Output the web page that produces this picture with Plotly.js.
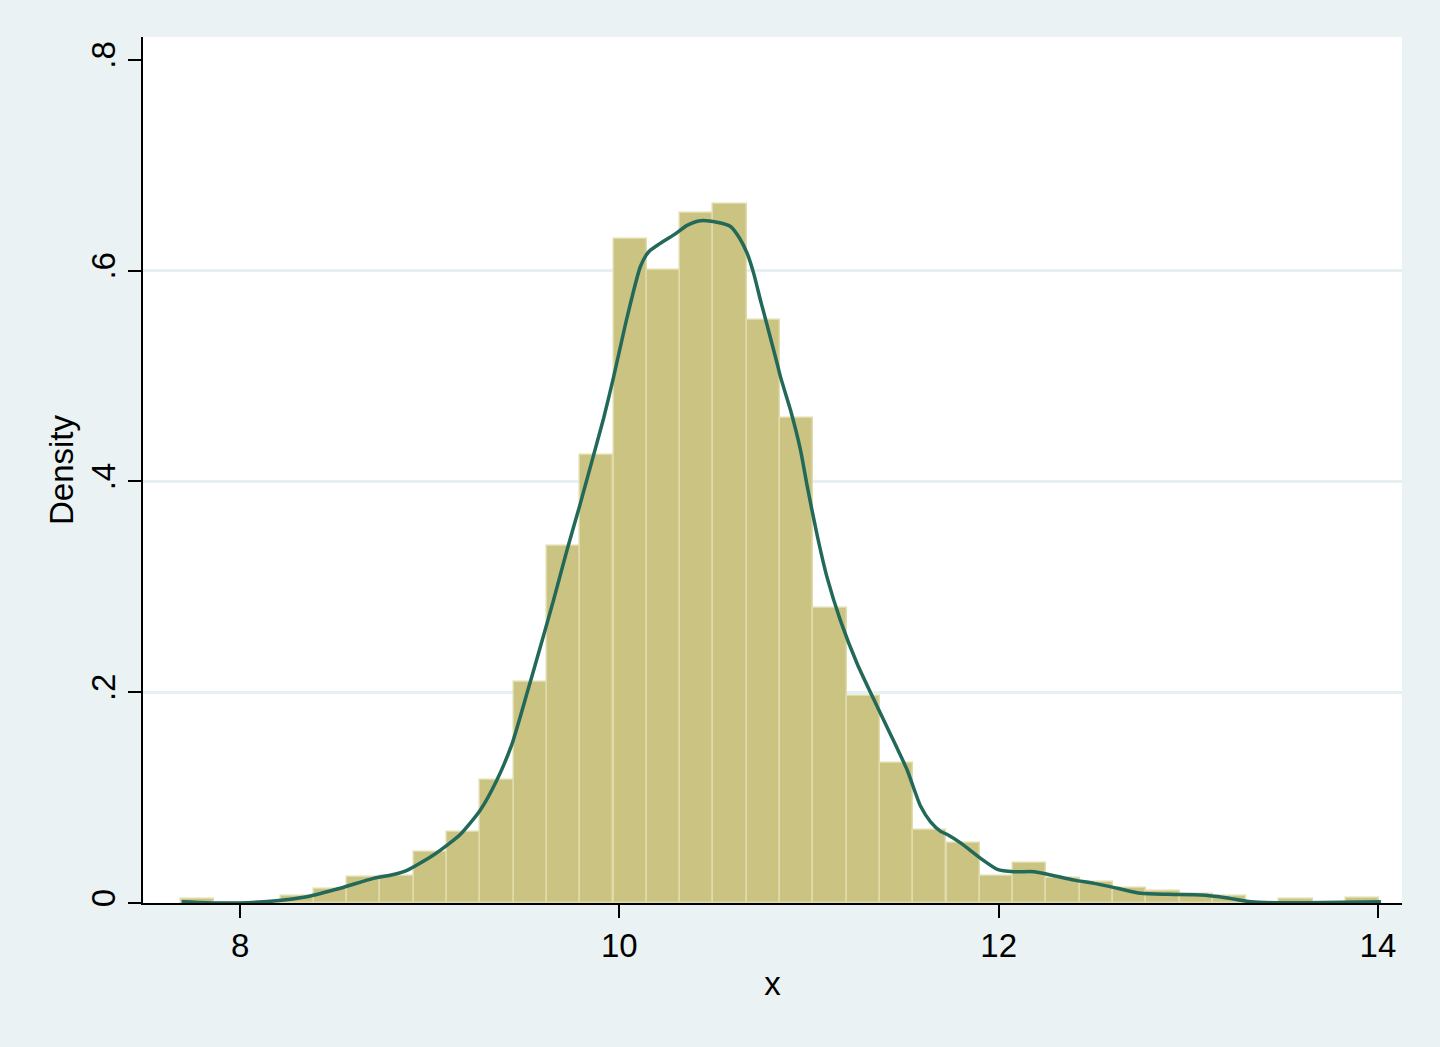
<!DOCTYPE html>
<html>
<head>
<meta charset="utf-8">
<script src="https://cdn.plot.ly/plotly-3.0.1.min.js"></script>
<style>
  html, body { margin: 0; padding: 0; background: #eaf2f3; }
  #hist { width: 1440px; height: 1047px; }
</style>
</head>
<body>
<div id="hist"></div>
<script>
// histogram bins (centres) and density heights
const binCenters = [7.775, 7.950, 8.126, 8.301, 8.477, 8.652, 8.828, 9.004, 9.179,
    9.355, 9.530, 9.706, 9.881, 10.057, 10.233, 10.408, 10.584, 10.759, 10.935,
    11.110, 11.286, 11.462, 11.637, 11.813, 11.988, 12.164, 12.339, 12.515,
    12.691, 12.866, 13.042, 13.217, 13.393, 13.568, 13.744, 13.919];
const binDensity = [0.004, 0, 0, 0.007, 0.013, 0.025, 0.026, 0.048, 0.067,
    0.117, 0.21, 0.339, 0.425, 0.63, 0.601, 0.655, 0.663, 0.553, 0.46,
    0.28, 0.196, 0.133, 0.069, 0.057, 0.026, 0.038, 0.024, 0.0196,
    0.014, 0.011, 0.009, 0.0066, 0, 0.004, 0, 0.005];
const binWidth = 0.1756;

// kernel density curve
const kdeX = [7.692, 7.824, 8.0, 8.176, 8.352, 8.528, 8.703, 8.809, 8.88, 9.02,
    9.161, 9.266, 9.355, 9.434, 9.513, 9.583, 9.653, 9.724, 9.794, 9.864,
    9.917, 9.97, 10.041, 10.111, 10.155, 10.216, 10.287, 10.357, 10.427,
    10.515, 10.586, 10.63, 10.674, 10.709, 10.744, 10.762, 10.832, 10.85,
    10.902, 10.955, 10.99, 11.043, 11.096, 11.166, 11.254, 11.342, 11.43,
    11.518, 11.588, 11.641, 11.694, 11.729, 11.799, 11.905, 11.993, 12.081,
    12.186, 12.274, 12.398, 12.503, 12.626, 12.749, 12.89, 13.066, 13.189,
    13.33, 13.453, 13.629, 13.805, 14.016];
const kdeY = [0.0012, 0.0003, 0.0001, 0.002, 0.006, 0.014, 0.0234, 0.027, 0.031, 0.0455,
    0.065, 0.088, 0.117, 0.151, 0.199, 0.243, 0.2875, 0.335, 0.379, 0.425,
    0.46, 0.4995, 0.556, 0.604, 0.618, 0.626, 0.634, 0.643, 0.6475,
    0.646, 0.642, 0.632, 0.6165, 0.597, 0.572, 0.56, 0.512, 0.499,
    0.468, 0.43, 0.396, 0.349, 0.3085, 0.268, 0.227, 0.193, 0.16,
    0.126, 0.092, 0.077, 0.068, 0.065, 0.057, 0.0424, 0.032, 0.0297,
    0.0297, 0.0266, 0.0217, 0.0186, 0.014, 0.0092, 0.0082, 0.0076, 0.0053,
    0.0012, 0.0003, 0.0003, 0.0006, 0.0012];

const xTicks = [8, 10, 12, 14];
const yTicks = [0, 0.2, 0.4, 0.6, 0.8];
const yTickText = ["0", ".2", ".4", ".6", ".8"];
const yGrid = [0.2, 0.4, 0.6];

const font = "Liberation Sans, Arial, Helvetica, sans-serif";

const traces = [];

// bars
traces.push({
    type: "bar",
    x: binCenters,
    y: binDensity,
    width: binWidth,
    marker: {
        color: "#cbc381",
        line: { color: "#e0dbab", width: 1.5 }
    },
    showlegend: false,
    hoverinfo: "x+y"
});

// kdensity
traces.push({
    type: "scatter",
    mode: "lines",
    x: kdeX,
    y: kdeY,
    line: { color: "#22695a", width: 3.5, shape: "spline", smoothing: 0.6 },
    showlegend: false
});

// empty trace so the grid-only axis gets drawn
traces.push({
    type: "scatter",
    mode: "lines",
    x: [],
    y: [],
    yaxis: "y2",
    showlegend: false,
    hoverinfo: "skip"
});

Plotly.newPlot("hist", traces, {
    width: 1440,
    height: 1047,
    paper_bgcolor: "#eaf2f3",
    plot_bgcolor: "#ffffff",
    margin: { l: 143, r: 38, t: 37, b: 144 },
    bargap: 0,
    font: { family: font, size: 33, color: "#000" },
    xaxis: {
        range: [7.488, 14.127],
        tickvals: xTicks,
        ticks: "outside",
        ticklen: 13,
        tickwidth: 1.5,
        tickcolor: "#000",
        showline: true,
        linecolor: "#000",
        linewidth: 1.5,
        showgrid: false,
        zeroline: false,
        tickfont: { family: font, size: 33, color: "#000" },
        title: { text: "x", font: { family: font, size: 33, color: "#000" }, standoff: 9 }
    },
    yaxis: {
        range: [0, 0.8218],
        tickvals: yTicks,
        ticktext: yTickText,
        tickangle: -90,
        ticks: "outside",
        ticklen: 13,
        tickwidth: 1.5,
        tickcolor: "#000",
        showline: true,
        linecolor: "#000",
        linewidth: 1.5,
        showgrid: false,
        zeroline: false,
        tickfont: { family: font, size: 33, color: "#000" },
        title: { text: "Density", font: { family: font, size: 33, color: "#000" }, standoff: 1 }
    },
    // grid only at .2 .4 .6
    yaxis2: {
        overlaying: "y",
        range: [0, 0.8218],
        tickvals: yGrid,
        showticklabels: false,
        ticks: "",
        showgrid: true,
        gridcolor: "#e6eff1",
        gridwidth: 2.5,
        zeroline: false,
        showline: false
    }
}, { displayModeBar: false });
</script>
</body>
</html>
